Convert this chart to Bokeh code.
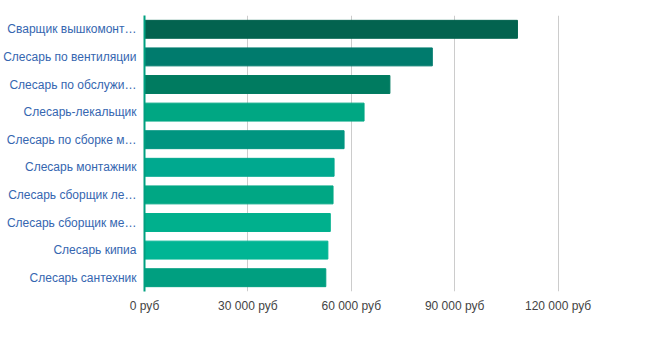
from bokeh.plotting import figure
from bokeh.models import ColumnDataSource, Range1d, FixedTicker
from bokeh.embed import file_html
from bokeh.resources import INLINE

categories = [
    "Сварщик вышкомонт…",
    "Слесарь по вентиляции",
    "Слесарь по обслужи…",
    "Слесарь-лекальщик",
    "Слесарь по сборке м…",
    "Слесарь монтажник",
    "Слесарь сборщик ле…",
    "Слесарь сборщик ме…",
    "Слесарь кипиа",
    "Слесарь сантехник",
]
salaries = [108200, 83500, 71200, 63700, 57900, 55000, 54700, 53900, 53200, 52600]
colors = ["#03634f", "#007b6d", "#007b60", "#00a783", "#009580",
          "#00a98f", "#00a784", "#00b08d", "#00b594", "#009f80"]
tick_values = [0, 30000, 60000, 90000, 120000]
tick_labels = ["0 руб", "30 000 руб", "60 000 руб", "90 000 руб", "120 000 руб"]

source = ColumnDataSource(dict(cat=categories, val=salaries, color=colors))

p = figure(width=652, height=343, y_range=list(reversed(categories)),
           x_range=Range1d(0, 141000), output_backend="svg", toolbar_location=None,
           min_border_left=144, min_border_right=22, min_border_top=15, min_border_bottom=52)
p.hbar(y="cat", right="val", left=0, height=0.65, color="color", source=source)

p.outline_line_color = None
p.ygrid.grid_line_color = None
p.xgrid.grid_line_color = "#cccccc"
p.xaxis.ticker = FixedTicker(ticks=tick_values)
p.xaxis.major_label_overrides = {v: l for v, l in zip(tick_values, tick_labels)}
p.xaxis.axis_line_color = None
p.xaxis.major_tick_line_color = None
p.xaxis.minor_tick_line_color = None
p.xaxis.major_label_standoff = 1
p.xaxis.major_label_text_font = "Liberation Sans"
p.xaxis.major_label_text_font_size = "12px"
p.xaxis.major_label_text_color = "#444444"

p.yaxis.axis_line_color = "#00a080"
p.yaxis.axis_line_width = 2
p.yaxis.major_tick_line_color = None
p.yaxis.minor_tick_line_color = None
p.yaxis.major_label_standoff = 2
p.yaxis.major_label_text_font = "Liberation Sans"
p.yaxis.major_label_text_font_size = "12px"
p.yaxis.major_label_text_color = "#3566b0"

open("out.html", "w").write(file_html(p, INLINE))
